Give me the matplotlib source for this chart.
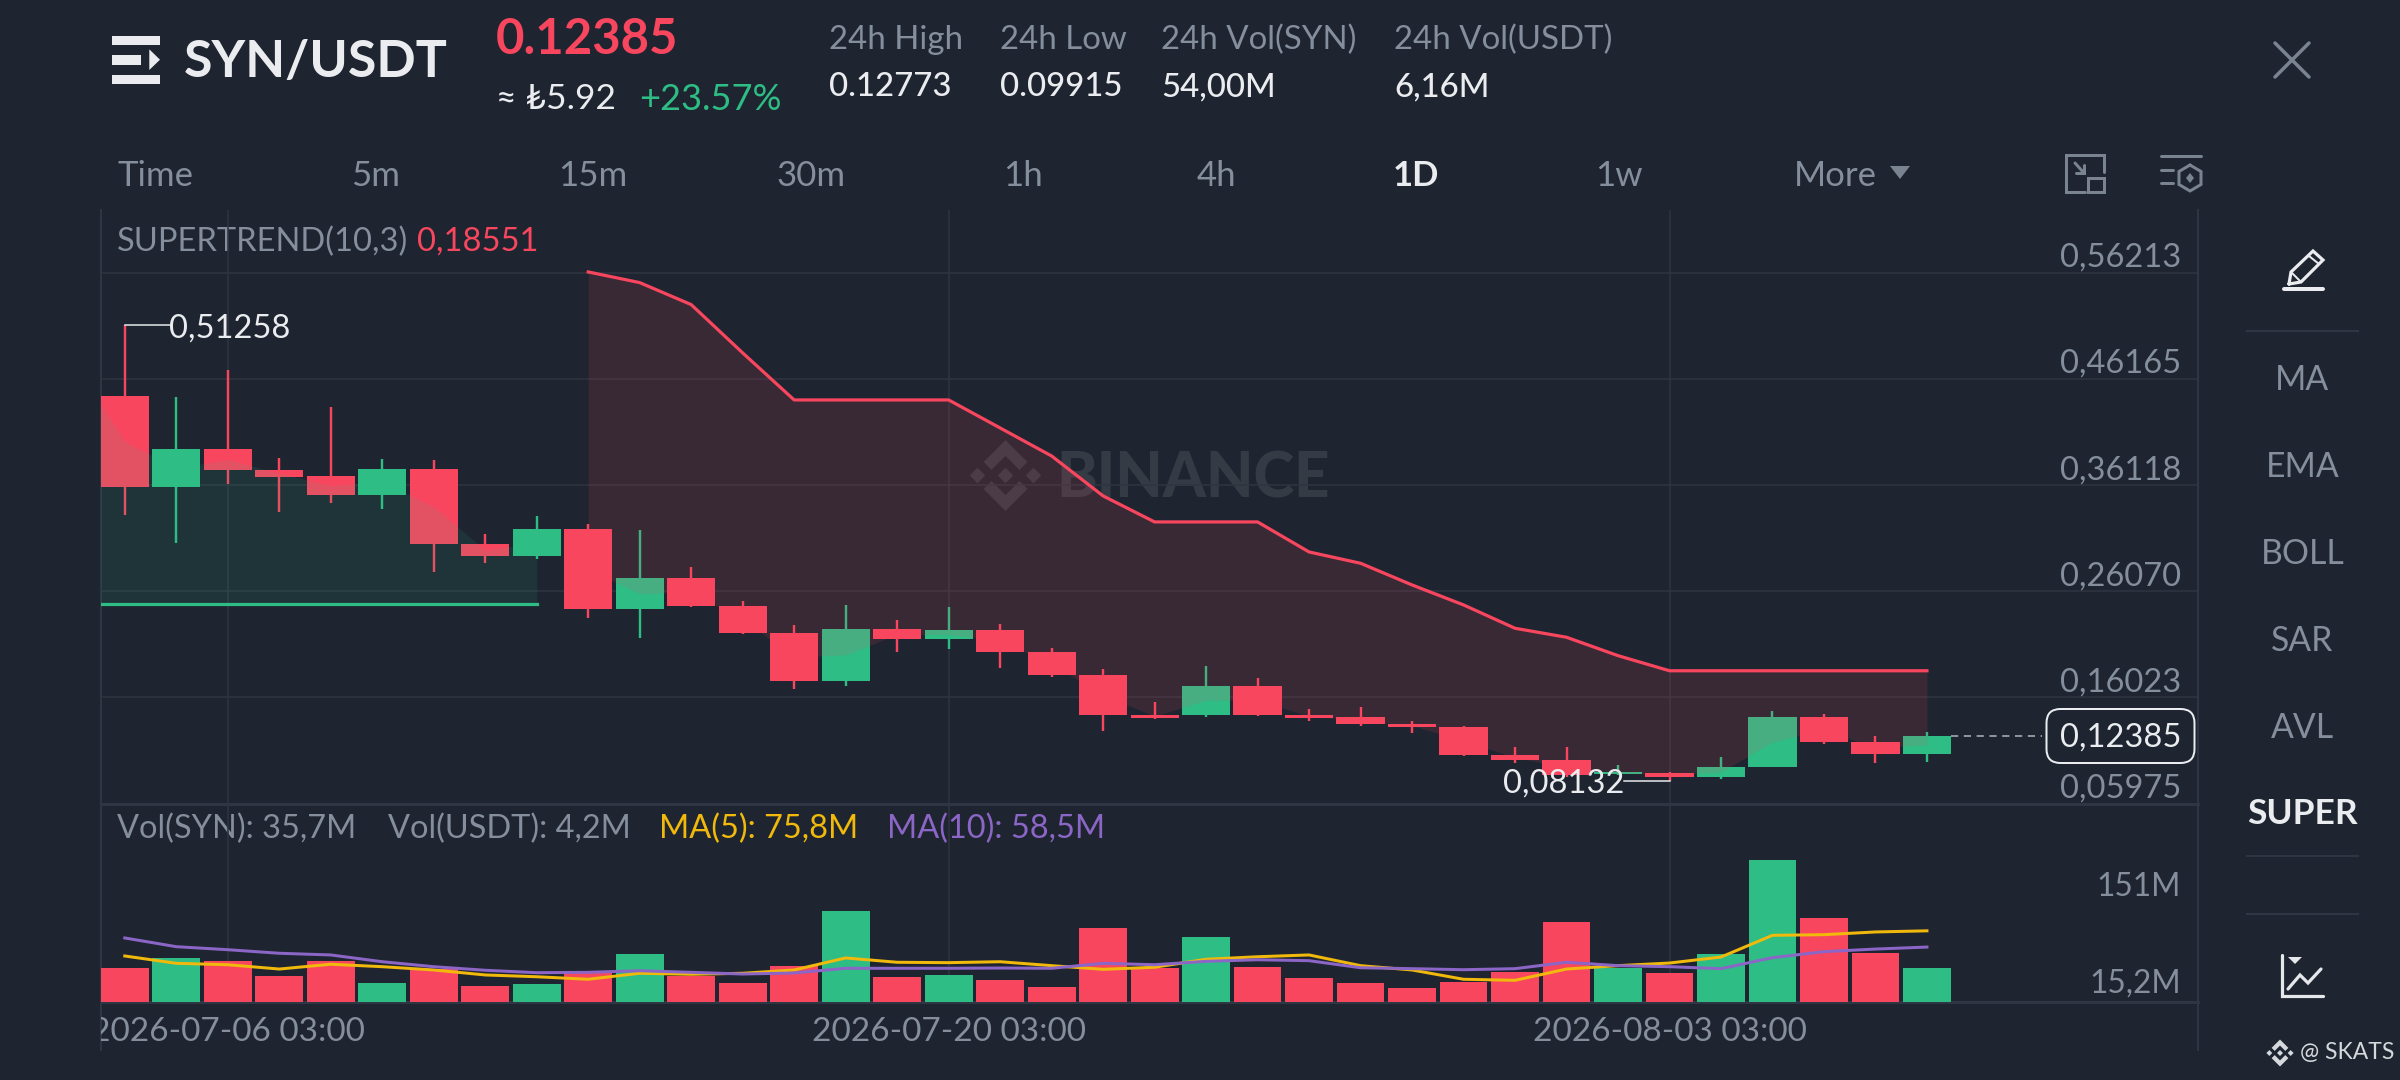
import matplotlib
matplotlib.use("Agg")
import matplotlib.pyplot as plt
from matplotlib.patches import Polygon, Rectangle, FancyBboxPatch
from matplotlib.transforms import Bbox
import numpy as np

# ---------- data ----------
opens = [.4458,.3591,.3953,.3755,.3695,.3521,.3761,.3052,.2938,.3197,.2437,.2730,.2471,.2210,.1762,.2248,.2153,.2241,
         .2030,.1813,.1437,.1440,.1711,.1437,.1415,.1352,.1321,.1059,.1011,.0876,.0888,.0853,.0942,.1418,.1179,.1068]
closes = [.3591,.3951,.3755,.3691,.3521,.3761,.3052,.2938,.3197,.2437,.2730,.2471,.2213,.1762,.2248,.2153,.2241,.2030,
          .1813,.1440,.1412,.1711,.1440,.1412,.1355,.1321,.1062,.1011,.0870,.0901,.0853,.0942,.1418,.1182,.1071,.12385]
highs = [.51258,.4448,.4701,.3868,.4351,.3859,.3849,.3149,.3320,.3244,.3184,.2837,.2513,.2289,.2475,.2336,.2462,.2295,
         .2068,.1869,.1563,.1898,.1787,.1491,.1510,.1380,.1333,.1132,.1134,.0964,.0901,.1037,.1478,.1447,.1236,.12773]
lows = [.3329,.3061,.3622,.3360,.3445,.3383,.2793,.2872,.2913,.2358,.2166,.2456,.2204,.1680,.1714,.2030,.2064,.1885,
        .1799,.1283,.1399,.1421,.1425,.1378,.1336,.1264,.1049,.0980,.0851,.0870,.08132,.0834,.0942,.1166,.0986,.09915]
volumes = [36.2,46.9,43.3,27.7,43.3,20.2,34.8,16.7,18.9,30.9,50.8,28.0,20.6,38.3,96.6,26.3,28.8,23.4,
           16.3,79.1,36.5,68.9,37.6,25.9,20.6,15.2,21.6,32.0,85.5,36.5,30.6,51.1,151.0,89.1,52.5,35.7]
ma5 = [49.0,41.2,39.7,35.1,40.2,37.6,34.1,28.8,26.9,24.2,30.6,29.5,30.6,34.1,46.9,42.3,41.9,42.9,
       38.7,34.8,37.0,45.5,48.2,50.1,38.7,34.1,24.2,23.1,35.1,38.7,41.5,47.9,71.0,71.7,74.6,75.8]
ma10 = [68.2,58.9,55.7,51.9,50.1,42.9,37.6,33.8,31.2,31.6,33.3,31.6,29.8,30.9,35.9,35.9,35.9,36.2,
        35.9,41.2,39.7,43.3,45.0,44.0,36.5,35.5,34.4,35.5,42.3,38.7,37.6,35.5,47.2,53.6,56.4,58.5]
# supertrend: lower band for the first stretch (starting one bar before the visible window), upper band after that
prior_mid = 0.477
st_lower = [.2484] * 10
st_upper = [.5628,.5527,.5319,.4862,.4417,.4417,.4417,.4417,.4152,.3887,.3509,.3263,.3263,.3263,
            .2979,.2872,.2667,.2478,.2257,.2172,.1998,.18551,.18551,.18551,.18551,.18551,.18551]
price_ticks = [0.56213, 0.46165, 0.36118, 0.26070, 0.16023, 0.05975]
price_tick_labels = ["0,56213", "0,46165", "0,36118", "0,26070", "0,16023", "0,05975"]
date_ticks = [2, 16, 30]
date_labels = ["2026-07-06 03:00", "2026-07-20 03:00", "2026-08-03 03:00"]
vol_ticks = [151.0, 15.2]
vol_tick_labels = ["151M", "15,2M"]
timeframes = [("Time",118),("5m",351),("15m",558),("30m",777),("1h",1003),("4h",1197),("1w",1595),("More",1794)]
side_items = [("MA",376.5),("EMA",464),("BOLL",551),("SAR",638),("AVL",725)]

# ---------- style ----------
BG = "#1E2530"; GRID = "#2E3541"; AXIS = "#2F3643"
GREY = "#848E9C"; WHITE = "#EAECEF"; RED = "#F8465F"; GREEN = "#2EBD85"
YEL = "#F0B90B"; PUR = "#8B66C6"; ICON = "#7A8390"
plt.rcParams["font.family"] = ["Lato", "DejaVu Sans"]
W, H = 2400, 1080
fig = plt.figure(figsize=(24, 10.8), dpi=100, facecolor=BG)
px = 0.72  # points per pixel

def rect(x0, ytop, x1, ybot):
    return [x0 / W, 1 - ybot / H, (x1 - x0) / W, (ybot - ytop) / H]

ui = fig.add_axes([0, 0, 1, 1], zorder=0)
ui.set_xlim(0, W); ui.set_ylim(H, 0); ui.axis("off")

def T(x, y, s, size=23.5, color=GREY, ha="left", weight="normal", **kw):
    return ui.text(x, y + 3, s, fontsize=size, color=color, ha=ha, va="center", fontweight=weight, **kw)

def L(xs, ys, color=ICON, lw=3, **kw):
    ui.plot(xs, ys, color=color, lw=lw * px, solid_capstyle=kw.pop("cap", "round"), solid_joinstyle="miter", **kw)

def binance_logo(cx, cy, r, **kw):
    k = r / 35.5
    def P(pts):
        ui.add_patch(Polygon([(cx + a * k, cy + b * k) for a, b in pts], closed=True, lw=0, **kw))
    for dx, dy in [(0, 0), (-28, 0), (28, 0)]:
        P([(dx - 7.8, dy), (dx, dy - 7.8), (dx + 7.8, dy), (dx, dy + 7.8)])
    for s in (1, -1):
        P([(0, -35.5 * s), (22, -13.5 * s), (14, -5.5 * s), (0, -19.5 * s), (-14, -5.5 * s), (-22, -13.5 * s)])

# ---------- watermark ----------
binance_logo(1005.5, 475.5, 35.5, color="white", alpha=0.10)
ui.text(1056, 479, "BINANCE", fontsize=44.4, fontweight="black", color="white", alpha=0.10, ha="left", va="center")

# ---------- header ----------
ui.add_patch(Rectangle((112, 35.7), 48, 9.3, color=WHITE, lw=0))
ui.add_patch(Rectangle((112, 55), 28.7, 9.7, color=WHITE, lw=0))
ui.add_patch(Polygon([(149.3, 49.3), (160, 59.7), (149.3, 70)], color=WHITE, lw=0))
ui.add_patch(Rectangle((112, 74.7), 48, 9.3, color=WHITE, lw=0))
T(184, 60, "SYN/USDT", size=37.4, color=WHITE, weight="bold")
T(496, 37, "0.12385", size=35.4, color=RED, weight="bold")
T(496, 96, "≈ ₺5.92", size=25.5, color=WHITE)
T(639, 96, "+23.57%", size=26, color=GREEN)
for x, a, b in [(829, "24h High", "0.12773"), (1000, "24h Low", "0.09915"), (1161, "24h Vol(SYN)", "54,00M"), (1394, "24h Vol(USDT)", "6,16M")]:
    T(x, 37, a, size=23.8)
    T(x, 84, b, size=23.8, color=WHITE, weight="medium")
for s, x in timeframes:
    T(x, 172.5, s, size=25)
T(1393, 172.5, "1D", size=25, color=WHITE, weight="bold")
ui.add_patch(Polygon([(1890, 166), (1910, 166), (1900, 179)], color=ICON, lw=0))
# icons
L([2085, 2066, 2066, 2104, 2104], [191.5, 191.5, 154.5, 154.5, 172], lw=3)
ui.add_patch(Rectangle((2088, 178), 15.5, 13.5, fill=False, ec=ICON, lw=3 * px))
L([2075, 2084], [163, 173], lw=3)
L([2076, 2084, 2084], [173, 173, 165], lw=3)
L([2161, 2201], [156, 156], lw=3)
L([2161, 2173], [170, 170], lw=3)
L([2161, 2173], [183, 183], lw=3)
hx, hy = 2190, 178
L([hx, hx + 11, hx + 11, hx, hx - 11, hx - 11, hx], [hy - 13, hy - 6.5, hy + 6.5, hy + 13, hy + 6.5, hy - 6.5, hy - 13], lw=3)
ui.add_patch(Polygon([(hx, hy - 5), (hx + 4, hy), (hx, hy + 5), (hx - 4, hy)], color=ICON, lw=0))
L([2275, 2309], [43, 77], lw=3.5); L([2309, 2275], [43, 77], lw=3.5)
# side panel
L([2289, 2291, 2313, 2323, 2301, 2289], [284, 272, 251, 260, 282, 284], color=WHITE, lw=3.2)
L([2291, 2301], [272, 282], color=WHITE, lw=2)
L([2309, 2319], [256, 264], color=WHITE, lw=2)
L([2284, 2323], [288.5, 288.5], color=WHITE, lw=4)
for y in (330.7, 856, 913.5):
    ui.plot([2247, 2358], [y, y], color=AXIS, lw=2 * px)
for s, y in side_items:
    T(2302.5, y, s, size=24.3, ha="center")
T(2302.5, 811, "SUPER", size=25.5, color=WHITE, ha="center", weight="bold")
L([2281.5, 2281.5, 2323], [955, 996, 996], color="#E5E7EA", lw=3.2)
L([2288, 2300, 2308, 2321], [989, 975, 983, 969], color="#E5E7EA", lw=3.2)
ui.add_patch(Polygon([(2288, 957), (2302, 957), (2295, 964)], color="#E5E7EA", lw=0))
binance_logo(2280, 1053, 13.5, color="#D5D8DC")
T(2300, 1050, "@ SKATS", size=16.5, color="#D5D8DC")
# axis frame verticals
ui.plot([101, 101], [210, 1050], color=AXIS, lw=2 * px)
ui.plot([2198, 2198], [210, 1050], color=AXIS, lw=2 * px)

# ---------- price panel ----------
X0, DX = 124.8, 51.49
xlim = ((101 - X0) / DX, (2198 - X0) / DX)
ax = fig.add_axes(rect(101, 210, 2198, 803.7), zorder=2)
ax.patch.set_alpha(0)
n = len(opens)
idx = np.arange(n)
o, c, h, l = map(np.array, (opens, closes, highs, lows))
colors = [GREEN if b >= a else RED for a, b in zip(o, c)]
ax.vlines(idx, l, h, colors=colors, lw=2.4 * px, zorder=3)
ax.bar(idx, np.abs(c - o), bottom=np.minimum(o, c), width=48.2 / DX, color=colors, lw=0, zorder=3.5)
mid = (o + c) / 2
n_low = len(st_lower) - 1
x_low = np.arange(-1, n_low)
mid_low = np.r_[prior_mid, mid[:n_low]]
ax.fill_between(x_low, st_lower, mid_low, color=GREEN, alpha=0.10, lw=0, zorder=4)
ax.plot(x_low, st_lower, color=GREEN, lw=3.2 * px, zorder=5)
x_up = idx[n_low:]
ax.fill_between(x_up, st_upper, mid[n_low:], color=RED, alpha=0.12, lw=0, zorder=4)
ax.plot(x_up, st_upper, color=RED, lw=3.2 * px, zorder=5)
ax.set_xlim(xlim)
ax.set_ylim(0.05975, 0.05975 + (803.7 - 210) * 0.000946)
ax.set_xticks(date_ticks); ax.set_xticklabels([])
ax.set_yticks(price_ticks); ax.set_yticklabels(price_tick_labels, fontsize=23.5, color=GREY)
ax.yaxis.tick_right()
ax.tick_params(length=0, pad=-17 * px)
plt.setp(ax.get_yticklabels(), ha="right", va="bottom")
ax.grid(True, color=GRID, lw=1.6 * px, zorder=1)
ax.set_axisbelow(True)
for s in ("top", "left", "right"):
    ax.spines[s].set_visible(False)
ax.spines["bottom"].set_color(AXIS); ax.spines["bottom"].set_linewidth(3 * px)
# extreme labels
hi_i, lo_i = int(np.argmax(h)), int(np.argmin(l))
ax.plot([hi_i, hi_i + 44.7 / DX], [h[hi_i]] * 2, color=WHITE, lw=1.5 * px, zorder=6)
ax.annotate("0,51258", (hi_i, h[hi_i]), xytext=(44, -4), textcoords="offset pixels", fontsize=23.5, color=WHITE, va="center", zorder=7)
ax.plot([lo_i, lo_i - 45.5 / DX], [l[lo_i]] * 2, color=WHITE, lw=1.5 * px, zorder=6)
ax.annotate("0,08132", (lo_i, l[lo_i]), xytext=(-45, -3), textcoords="offset pixels", fontsize=23.5, color=WHITE, va="center", ha="right", zorder=7)
# last price
ax.plot([n - 1 + 0.46, n - 1 + 2.23], [c[-1]] * 2, color="#A9AFB8", lw=1.6 * px, ls=(0, (4.5, 3.5)), zorder=6)
ui.add_patch(FancyBboxPatch((2053.5, 716), 134, 40, boxstyle="round,pad=7,rounding_size=14", fc=BG, ec=WHITE, lw=2 * px))
T(2120.5, 735, "0,12385", size=23.5, color=WHITE, ha="center")
# panel legends
T(117, 239, "SUPERTREND(10,3)", size=23.5)
T(417, 239, "0,18551", size=23.5, color=RED)

# ---------- volume panel ----------
av = fig.add_axes(rect(101, 803.7, 2198, 1002), zorder=2)
av.patch.set_alpha(0)
av.bar(idx, volumes, width=47.8 / DX, color=colors, lw=0, zorder=3)
av.plot(idx, ma5, color=YEL, lw=3 * px, zorder=4)
av.plot(idx, ma10, color=PUR, lw=3 * px, zorder=5)
av.set_xlim(xlim); av.set_ylim(0, 198.3 * 1.065)
av.set_xticks(date_ticks)
av.set_xticklabels(date_labels, fontsize=24, color=GREY)
av.set_yticks([])
av.tick_params(axis="x", length=0, pad=15 * px)
av.grid(True, axis="x", color=GRID, lw=1.6 * px, zorder=1)
av.set_axisbelow(True)
for s in ("top", "left", "right"):
    av.spines[s].set_visible(False)
av.spines["bottom"].set_color(AXIS); av.spines["bottom"].set_linewidth(3 * px)
clip = Bbox([[101, 0], [2400, 1080]])
for t in av.get_xticklabels():
    t.set_clip_box(clip); t.set_clip_on(True)
for v, s, dy in zip(vol_ticks, vol_tick_labels, (-27, 4)):
    av.annotate(s, (1, v), xycoords=av.get_yaxis_transform(), xytext=(-17, dy), textcoords="offset pixels",
                fontsize=22.8, color=GREY, ha="right", va="center", annotation_clip=False)
T(117, 826, "Vol(SYN): 35,7M", size=23.4)
T(388, 826, "Vol(USDT): 4,2M", size=23.4)
T(659, 826, "MA(5): 75,8M", size=23.4, color=YEL)
T(887, 826, "MA(10): 58,5M", size=23.4, color=PUR)

fig.savefig("out.png", dpi=100, facecolor=BG)
